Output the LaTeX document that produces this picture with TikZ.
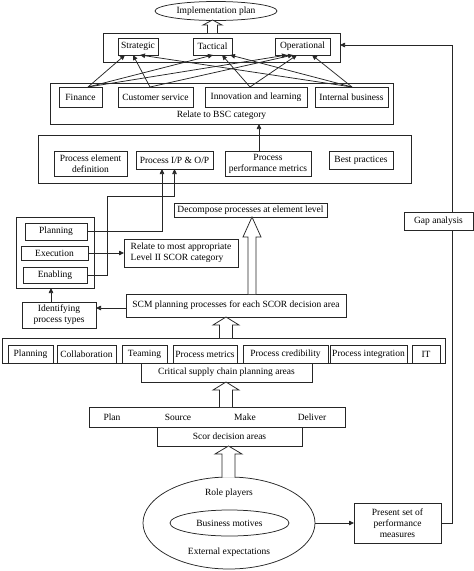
\documentclass[tikz,border=0pt]{standalone}
\usepackage{fontspec}
\setmainfont{Liberation Serif}
\usetikzlibrary{arrows.meta,shapes.geometric}
\tikzset{
  box/.style={draw, inner sep=0pt, outer sep=0pt, align=center},
  lbl/.style={inner sep=0pt, outer sep=0pt, align=center},
  arr/.style={-{Triangle[length=5pt,width=4.5pt]}},
  oval/.style={draw, ellipse, inner sep=0pt, outer sep=0pt, align=center},
}
\newcommand{\bx}[6]{\node[box, minimum width=#4pt, minimum height=#5pt] (#1) at (#2,#3) {#6};}
\newcommand{\blockarrow}[6]{%
  \draw[fill=white] (#1-#4,#2) -- (#1-#4,#3+#6) -- (#1-#5,#3+#6) -- (#1,#3) -- (#1+#5,#3+#6) -- (#1+#4,#3+#6) -- (#1+#4,#2);}
\begin{document}
\begin{tikzpicture}[x=1pt,y=-1pt, line width=0.75pt, draw=black!85,
  every node/.append style={font=\fontsize{9.5}{11}\selectfont}]
\useasboundingbox (0,0) rectangle (474,571);

% top
\node[oval, minimum width=122pt, minimum height=19pt] (impl) at (216,11) {Implementation plan};
\bx{topbox}{221.5}{47.5}{237}{29}{}
\bx{strat}{138}{46.5}{40}{17}{Strategic}
\bx{tact}{212.5}{46.5}{39}{17}{Tactical}
\bx{oper}{302.5}{46.5}{55}{17}{Operational}
\blockarrow{212.5}{33}{20}{5}{9.5}{5}

% BSC
\bx{bsc}{221.5}{103.5}{343}{41}{}
\bx{fin}{80.5}{97}{43}{20}{Finance}
\bx{cust}{155.5}{97}{75}{20}{Customer service}
\bx{innov}{256}{97}{102}{20}{Innovation and learning}
\bx{intb}{351.5}{97}{73}{20}{Internal business}
\node[lbl] (bsclbl) at (221.5,115) {Relate to BSC category};

\draw[arr] ([xshift=7.5pt]fin.north) -- ([xshift=-13pt]strat.south);
\draw[arr] ([xshift=7.5pt]fin.north) -- ([xshift=0.5pt]tact.south);
\draw[arr] ([xshift=7.5pt]fin.north) -- ([xshift=-15.5pt]oper.south);
\draw[arr] ([xshift=-5.5pt]cust.north) -- ([xshift=-5pt]strat.south);
\draw[arr] ([xshift=-5.5pt]cust.north) -- ([xshift=-9.5pt]oper.south);
\draw[arr] ([xshift=-6pt]innov.north) -- ([xshift=9.5pt]tact.south);
\draw[arr] ([xshift=-6pt]innov.north) -- ([xshift=-5.5pt]oper.south);
\draw[arr] ([xshift=0.5pt]intb.north) -- ([xshift=2pt]strat.south);
\draw[arr] ([xshift=0.5pt]intb.north) -- ([xshift=17.5pt]tact.south);
\draw[arr] ([xshift=0.5pt]intb.north) -- ([xshift=9.5pt]oper.south);

% process element row
\bx{pebox}{224.5}{159}{373}{48}{}
\bx{ped}{90.5}{163.5}{73}{25}{Process element\\definition}
\bx{pio}{174.5}{160}{77}{18}{Process I/P \& O/P}
\bx{ppmet}{268}{163.5}{86}{25}{Process\\performance metrics}
\bx{bestp}{361}{160}{64}{18}{Best practices}
\draw[arr] (ppmet.north -| 259,0) -- (bsc.south -| 259,0);

% decompose, gap
\bx{decomp}{250.5}{210}{153}{14}{Decompose processes at element level}
\bx{gap}{438.5}{221}{69}{18}{Gap analysis}

% process types
\bx{ptypes}{55}{252.5}{78}{71}{}
\bx{planP}{56}{231.5}{62}{17}{Planning}
\bx{execP}{54.5}{253}{67}{14}{Execution}
\bx{enabP}{55}{275}{64}{16}{Enabling}
\node[box, minimum width=114pt, minimum height=28pt, align=left] (relate) at (181,253) {Relate to most appropriate\\Level II SCOR category};
\draw[arr] (execP.east) -- (relate.west);
\draw[arr] (planP.east) -| ([xshift=-12.5pt]pio.south);
\draw[arr] (enabP.east) -| (107,196) -| (pio.south);

\bx{ident}{59}{315}{74}{26}{Identifying\\process types}
\bx{scm}{236}{305.5}{220}{23}{SCM planning processes for each SCOR decision area}
\draw[arr] (scm.west |- 0,308) -- (ident.east |- 0,308);
\draw[arr] (ident.north -| 51,0) -- (ptypes.south -| 51,0);
\blockarrow{252}{294}{217}{4}{9}{20}

% critical areas
\bx{critbox}{223.5}{350.5}{443}{25}{}
\bx{cpl}{30.5}{354}{45}{18}{Planning}
\bx{ccol}{86.5}{354}{59}{18}{Collaboration}
\bx{ctea}{144.5}{354}{45}{18}{Teaming}
\bx{cpm}{205}{354}{64}{18}{Process metrics}
\bx{cpc}{285.5}{354}{85}{18}{Process credibility}
\bx{cpi}{368.5}{354}{77}{18}{Process integration}
\bx{cit}{426}{354}{28}{18}{IT}
\bx{crit}{226.5}{372.5}{171}{19}{Critical supply chain planning areas}
\blockarrow{226}{338}{317}{6.5}{13}{8}

% SCOR decision areas
\bx{pbox}{217}{417}{256}{20}{}
\node[lbl] (tplan) at (112,417) {Plan};
\node[lbl] (tsource) at (178,417) {Source};
\node[lbl] (tmake) at (245,417) {Make};
\node[lbl] (tdeliver) at (312,417) {Deliver};
\bx{scor}{229.5}{436.5}{145}{19}{Scor decision areas}
\blockarrow{226}{407}{382}{6.5}{13}{8}

% bottom
\node[oval, minimum width=172pt, minimum height=92pt] (big) at (229,523) {};
\node[oval, minimum width=119pt, minimum height=26pt] (bm) at (229.5,523) {Business motives};
\node[lbl] (rp) at (229,493) {Role players};
\node[lbl] (ee) at (229,552) {External expectations};
\blockarrow{228.5}{477.5}{446}{6.5}{13.5}{8}
\bx{present}{397.5}{523}{87}{40}{Present set of\\performance\\measures}
\draw[arr] (big.east) -- (present.west);
\draw (present.east) -| ([xshift=13.5pt]gap.south);
\draw[arr] ([xshift=13.5pt]gap.north) |- ([yshift=2.5pt]topbox.east);
\end{tikzpicture}
\end{document}
